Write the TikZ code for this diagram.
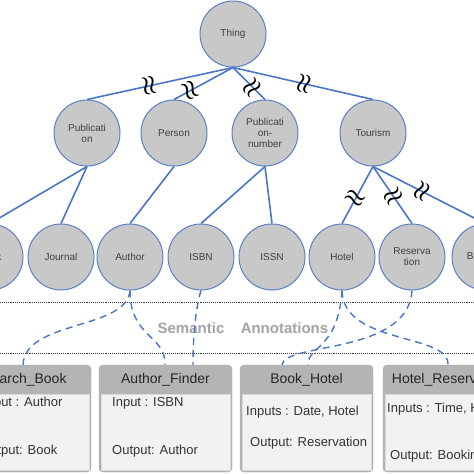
\documentclass[tikz,border=0pt]{standalone}
\usepackage{fontspec}
\setmainfont{Liberation Sans}
\usetikzlibrary{positioning}

\definecolor{linkblue}{HTML}{4A76C8}
\definecolor{rimblue}{HTML}{5B80C8}
\definecolor{ballgray}{HTML}{C8C8C8}
\definecolor{headgray}{HTML}{B4B4B4}
\definecolor{bodygray}{HTML}{F2F2F2}
\definecolor{framegray}{HTML}{A6A6A6}
\definecolor{notegray}{HTML}{A3A3A3}

\begin{document}
\begin{tikzpicture}[x=1pt, y=-1pt,
    concept/.style={circle, draw=rimblue, fill=ballgray, line width=1pt, minimum size=66pt, inner sep=0pt, align=center, font=\fontsize{10}{11}\selectfont, text=black!75},
    link/.style={draw=linkblue, line width=1.6pt},
    brk/.style={sloped, rotate=90, font=\LARGE\boldmath, scale=1.35, inner sep=0pt},
    annot/.style={draw=linkblue, line width=1.4pt, dash pattern=on 7pt off 5pt},
    svc/.style={draw=framegray, fill=headgray, rounded corners=4pt, minimum width=133pt, minimum height=107pt, inner sep=0pt},
    svcbody/.style={draw=black!15, fill=bodygray, minimum width=129pt, minimum height=76pt, inner sep=0pt},
    svctitle/.style={font=\fontsize{14}{16}\selectfont, text=black!85, inner sep=0pt},
    io/.style={anchor=west, font=\fontsize{13}{15}\selectfont, text=black!80, inner sep=0pt},
    note/.style={font=\fontsize{15}{17}\selectfont\bfseries, text=notegray, inner sep=0pt},
    layer/.style={densely dotted, line width=0.9pt, black!75}]

\path[use as bounding box, clip] (0,0) rectangle (474,474);

% Ontology: top concept
\node[concept] (thing) at (233,34) {Thing};

% Second level
\node[concept] (pub) at (87,133) {Publicati\\on};
\node[concept] (person) at (174,133) {Person};
\node[concept] (pubnum) at (265,133) {Publicati\\on-\\number};
\node[concept] (tourism) at (373,133) {Tourism};

% Third level (the outer ones run off the picture)
\node[concept] (book) at (-10,257) {Book};
\node[concept] (journal) at (61,257) {Journal};
\node[concept] (author) at (130,257) {Author};
\node[concept] (isbn) at (201,257) {ISBN};
\node[concept] (issn) at (272,257) {ISSN};
\node[concept] (hotel) at (342,257) {Hotel};
\node[concept] (reserv) at (412,257) {Reserva\\tion};
\node[concept] (booking) at (485,257) {Booking};

% Links from Thing, each one broken
\draw[link] (thing.south) -- (pub.north) node[brk, pos=0.57] {$\approx$};
\draw[link] (thing.south) -- (person.north) node[brk, pos=0.72] {$\approx$};
\draw[link] (thing.south) -- (pubnum.north) node[brk, pos=0.63] {$\approx$};
\draw[link] (thing.south) -- (tourism.north) node[brk, pos=0.51] {$\approx$};

% Links to the third level
\draw[link] (pub.south) -- (book.north);
\draw[link] (pub.south) -- (journal.north);
\draw[link] (person.south) -- (author.north);
\draw[link] (pubnum.south) -- (isbn.north);
\draw[link] (pubnum.south) -- (issn.north);
\draw[link] (tourism.south) -- (hotel.north) node[brk, pos=0.55] {$\approx$};
\draw[link] (tourism.south) -- (reserv.north) node[brk, pos=0.53] {$\approx$};
\draw[link] (tourism.south) -- (booking.north) node[brk, pos=0.44] {$\approx$};

% Annotation layer
\coordinate (layer-top) at (0,302);
\coordinate (layer-bot) at (0,353);
\draw[layer] (layer-top) -- (474,302);
\draw[layer] (layer-bot) -- (474,353);
\node[note] (sem) at (191,328) {Semantic};
\node[note, right=16pt of sem] (ann) {Annotations};

% Services
\node[svc] (sb) at (24.5,418.5) {};
\node[svcbody] (sb-io) at (24.5,432) {};
\node[svctitle] at (24.5,379.5) {Search\_Book};
\node[io] at (-17,403) {Input : Author};
\node[io] at (-20,451) {Output: Book};

\node[svc] (af) at (165.5,418.5) {};
\node[svcbody] (af-io) at (165.5,432) {};
\node[svctitle] at (165.5,379.5) {Author\_Finder};
\node[io] at (112,403) {Input : ISBN};
\node[io] at (112,451) {Output: Author};

\node[svc] (bh) at (306.5,418.5) {};
\node[svcbody] (bh-io) at (306.5,432) {};
\node[svctitle] at (306.5,379.5) {Book\_Hotel};
\node[io] at (246,412) {Inputs : Date, Hotel};
\node[io] at (250,443) {Output: Reservation};

\node[svc] (hr) at (449.5,418.5) {};
\node[svcbody] (hr-io) at (449.5,432) {};
\node[svctitle] at (449.5,379.5) {Hotel\_Reservation};
\node[io] at (387,409) {Inputs : Time, Hotel};
\node[io] at (390,456) {Output: Booking};

% Dashed annotations from concepts to services
\draw[annot] (author.south) .. controls (127,330) and (25,320) .. ([xshift=-1.5pt]sb.north);
\draw[annot] (author.south) .. controls (130,338) and (166,335) .. ([xshift=-0.5pt]af.north);
\draw[annot] (isbn.south) .. controls (195,310) and (193,340) .. ([xshift=27.5pt]af.north);
\draw[annot] (hotel.south) .. controls (338,350) and (308,345) .. ([xshift=1.5pt]bh.north);
\draw[annot] (hotel.south) .. controls (343,345) and (450,333) .. ([xshift=-1.5pt]hr.north);
\draw[annot] (reserv.south) .. controls (408,355) and (285,342) .. ([xshift=-24.5pt]bh.north);

\end{tikzpicture}
\end{document}
